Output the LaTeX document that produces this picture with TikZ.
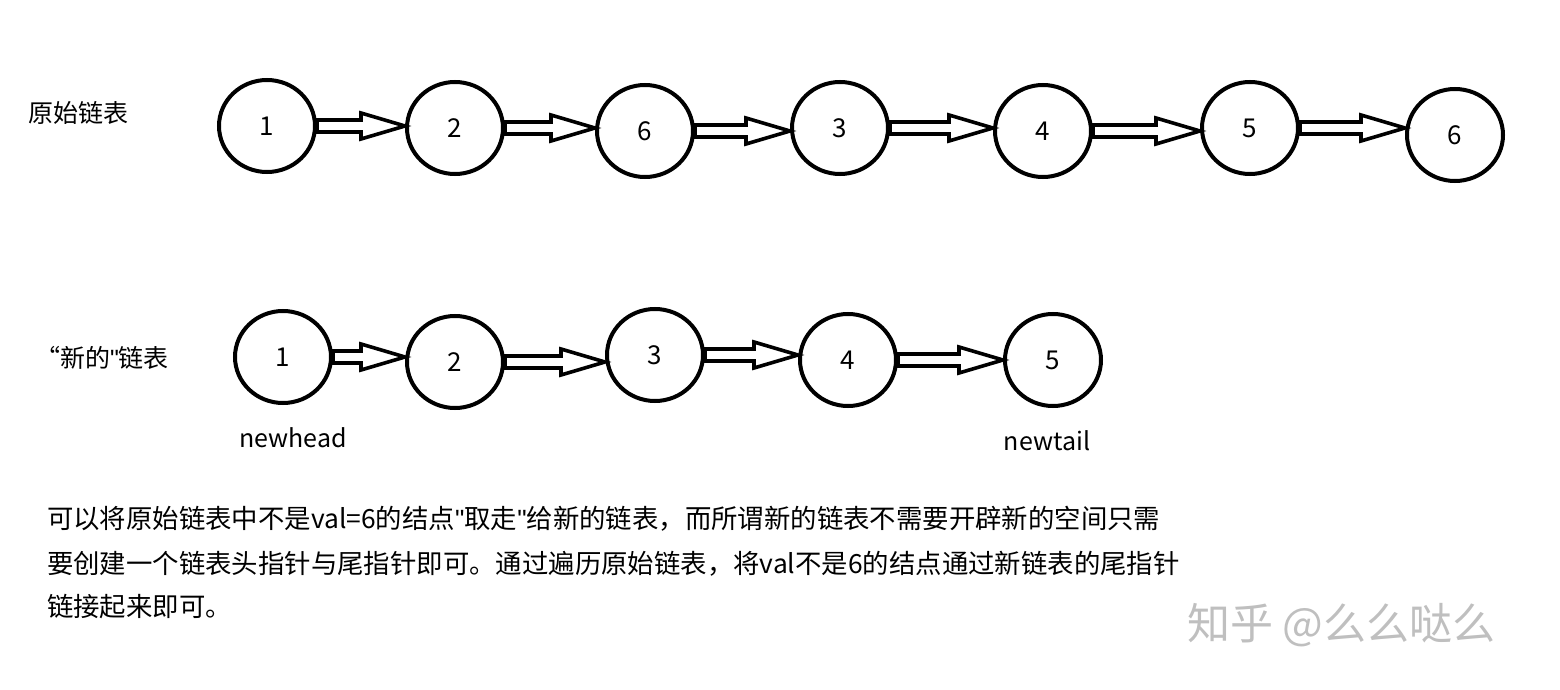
\documentclass[tikz,border=0pt]{standalone}
\usepackage{fontspec}
\setmainfont{Noto Sans CJK SC}
\newfontfamily\qf{Liberation Sans}
\newcommand{\sq}{{\qf\char"0022}}
\usetikzlibrary{calc,shapes.geometric}
\begin{document}
\begin{tikzpicture}[x=0.5pt,y=-0.5pt,
  nd/.style={draw,line width=2pt,ellipse,minimum width=48pt,minimum height=46pt,inner sep=0pt,font=\fontsize{13pt}{13pt}\selectfont},
  lbl/.style={font=\fontsize{12.5pt}{14pt}\selectfont},
  txt/.style={anchor=west,font=\fontsize{13.2pt}{14pt}\selectfont}]
\useasboundingbox (0,0) rectangle (1560,690);
\newcommand{\blk}[2]{\draw[line width=1.8pt,line join=miter]
  let \p1=(#1.east), \p2=(#2.west) in
  (\x1,\y1+3pt) -- (\x2-22pt,\y1+3pt) -- (\x2-22pt,\y1+6.5pt) -- (\x2,\y1) -- (\x2-22pt,\y1-6.5pt) -- (\x2-22pt,\y1-3pt) -- (\x1,\y1-3pt) -- cycle;}
\node[lbl] (t1) at (78,113) {原始链表};
\node (a1) [nd] at (267,126) {1};
\node (a2) [nd] at (455,128) {2};
\node (a3) [nd] at (645,131) {6};
\node (a4) [nd] at (840,128) {3};
\node (a5) [nd] at (1043,131) {4};
\node (a6) [nd] at (1250,128) {5};
\node (a7) [nd] at (1455,135) {6};
\foreach \i/\j in {a1/a2,a2/a3,a3/a4,a4/a5,a5/a6,a6/a7}{\blk{\i}{\j}}
\node[lbl] (t2) at (102,358) {“新的\sq 链表};
\node (b1) [nd] at (283,357) {1};
\node (b2) [nd] at (455,362) {2};
\node (b3) [nd] at (655,355) {3};
\node (b4) [nd] at (848,360) {4};
\node (b5) [nd] at (1053,360) {5};
\foreach \i/\j in {b1/b2,b2/b3,b3/b4,b4/b5}{\blk{\i}{\j}}
\node[lbl] (nh) at (293,438) {newhead};
\node[lbl] (nt) at (1047,441) {newtail};
\node[txt] (p1) at (40,519) {可以将原始链表中不是val=6的结点\sq 取走\sq 给新的链表，而所谓新的链表不需要开辟新的空间只需};
\node[txt] (p2) at (40,564) {要创建一个链表头指针与尾指针即可。通过遍历原始链表，将val不是6的结点通过新链表的尾指针};
\node[txt] (p3) at (40,607) {链接起来即可。};
\node[anchor=west,text=black!25,font=\fontsize{21.5pt}{22pt}\selectfont] (wm) at (1180,625) {知乎 @么么哒么};
\end{tikzpicture}
\end{document}
